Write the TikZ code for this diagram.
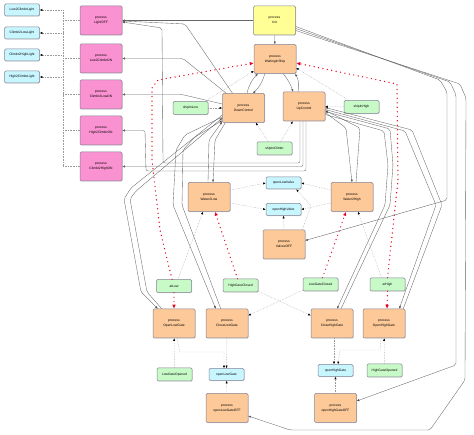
\documentclass[tikz,border=0pt]{standalone}
\usepackage{fontspec}
\setmainfont{Liberation Sans}
\usetikzlibrary{arrows.meta,shadows,calc}
\definecolor{pinkf}{RGB}{250,145,208}
\definecolor{orf}{RGB}{253,201,152}
\definecolor{yelf}{RGB}{255,255,150}
\definecolor{grf}{RGB}{200,250,200}
\definecolor{cyf}{RGB}{200,246,255}
\definecolor{bordc}{RGB}{130,130,150}
\definecolor{redc}{RGB}{230,0,30}
\begin{document}
\begin{tikzpicture}[x=1pt,y=-1pt,
  base/.style={draw=bordc, line width=0.5pt, rounded corners=1.2pt, inner sep=0pt, align=center,
    font=\fontsize{3.3}{5}\selectfont,
    drop shadow={shadow xshift=0.6pt,shadow yshift=-0.6pt,fill=black!30}},
  proc/.style={base, minimum width=42pt, minimum height=29pt},
  pinkp/.style={proc, fill=pinkf},
  orp/.style={proc, fill=orf},
  yelp/.style={proc, fill=yelf},
  ev/.style={base, minimum width=35pt, minimum height=13pt, fill=grf},
  act/.style={base, minimum width=35pt, minimum height=12pt, fill=cyf},
  ctl/.style={draw=black!60, line width=0.35pt, rounded corners=2pt, -{Latex[length=2.6pt,width=2.2pt,fill=black]}},
  dep/.style={draw=black!40, line width=0.4pt, dash pattern=on 0.5pt off 1.1pt, -{Latex[length=2.6pt,width=2.2pt,fill=black,color=black]}},
  depn/.style={draw=black!40, line width=0.4pt, dash pattern=on 0.5pt off 1.1pt},
  redd/.style={draw=redc, line width=1.4pt, line cap=round, dash pattern=on 0pt off 4.5pt, -{Latex[length=4pt,width=3.6pt]}}
]
\useasboundingbox (0,0) rectangle (474,435);

% light actions
\node[act] (l2cl) at (22,10) {Low2ClimbrLight};
\node[act] (c2ll) at (22,33) {Climbr2LowLight};
\node[act] (c2hl) at (22,55) {Climbr2HighLight};
\node[act] (h2cl) at (22,77) {High2ClimbrLight};

% pink processes
\node[pinkp] (loff) at (101,20.5) {process\\LightOFF};
\node[pinkp] (l2con) at (101,58.5) {process\\Low2ClimbrON};
\node[pinkp] (c2lon) at (101,94.5) {process\\Climbr2LowON};
\node[pinkp] (h2con) at (101,130.5) {process\\High2ClimbrON};
\node[pinkp] (c2hon) at (101,166.5) {process\\Climbr2HighON};

% main processes
\node[yelp] (init) at (274.5,20.5) {process\\Init};
\node[orp] (wait) at (275,59) {process\\WaitingInShip};
\node[orp] (down) at (243.5,108) {process\\DownControl};
\node[orp] (up) at (304,106.5) {process\\UpControl};
\node[orp] (wlow) at (209,197) {process\\Water2Low};
\node[orp] (whigh) at (352,197) {process\\Water2High};
\node[orp] (voff) at (284,244.5) {process\\ValvesOFF};
\node[orp] (olg) at (174,323.5) {process\\OpenLowGate};
\node[orp] (clg) at (227,323.5) {process\\CloseLowGate};
\node[orp] (chg) at (332,323.5) {process\\CloseHighGate};
\node[orp] (ohg) at (384,323.5) {process\\OpenHighGate};
\node[orp] (olgoff) at (227,408) {process\\openLowGateOFF};
\node[orp] (ohgoff) at (335.5,408) {process\\openHighGateOFF};

% events
\node[ev] (slow) at (190.5,108) {shipInLow};
\node[ev] (shigh) at (361.5,107) {shipInHigh};
\node[ev] (sclimb) at (274.5,148.5) {shipInClimbr};
\node[ev] (atlow) at (174,286) {atLow};
\node[ev] (hgc) at (240.5,285.5) {HighGateClosed};
\node[ev] (lgc) at (320.5,284.5) {LowGateClosed};
\node[ev] (athigh) at (387.5,284.5) {atHigh};
\node[ev] (lgo) at (174.5,374.5) {LowGateOpened};
\node[ev] (hgo) at (384.5,370.5) {HighGateOpened};

% actions
\node[act] (olv) at (283.5,183) {openLowValve};
\node[act] (ohv) at (283.5,209.5) {openHighValve};
\node[act] (olgt) at (226.5,374.5) {openLowGate};
\node[act] (ohgt) at (335.5,370.5) {openHighGate};

% lights bus
\coordinate (busT) at (63,10);
\coordinate (busB) at (63,166.5);
\draw[depn] (busT) -- (busB);
\draw[depn] (loff.west) -- (63,20.5);
\draw[depn] (l2con.west) -- (63,58.5);
\draw[depn] (c2lon.west) -- (63,94.5);
\draw[depn] (h2con.west) -- (63,130.5);
\draw[depn] (c2hon.west) -- (busB);
\draw[dep] (busT) -- (l2cl.east);
\draw[dep] (63,33) -- (c2ll.east);
\draw[dep] (63,55) -- (c2hl.east);
\draw[dep] (63,77) -- (h2cl.east);

% control edges
\draw[ctl] (init) -- (wait);
\draw[ctl] (init.west) -- (loff.east);
\draw[ctl] ($(down.north)+(-11,0)$) -- (185,24) -- ($(loff.east)+(0,0.5)$);
\draw[ctl] ($(up.south)+(-4,0)$) -- (300,163) -- (163,163) -- (162,28) -- ($(loff.east)+(0,1.5)$);
\draw[ctl] ($(down.north west)+(4,0)$) -- (183,58.5) -- (l2con.east);
\draw[ctl] ($(down.west)+(0,-4)$) -- (182,94.5) -- (c2lon.east);
\draw[ctl] ($(up.south)+(2,0)$) -- (306,171) -- (146,171) -- (145,130.5) -- (h2con.east);
\draw[ctl] ($(up.south)+(-1,0)$) -- (303,166.5) -- (c2hon.east);

\draw[ctl] ($(down.north)+(3.5,0)$) to[bend left=15] ($(wait.south west)+(4,0)$);
\draw[ctl] ($(wait.south west)+(11,0)$) to[bend left=15] ($(down.north)+(9.5,0)$);
\draw[ctl] ($(wait.south east)+(-13,0)$) to[bend left=10] ($(up.north)+(-11,0)$);
\draw[ctl] ($(up.north)+(-6,0)$) to[bend right=20] ($(wait.south east)+(-1,0)$);

\draw[ctl] ($(down.south west)+(3,0)$) -- (215,140) -- ($(wlow.north)+(4,0)$);
\draw[ctl] ($(wlow.north)+(-1,0)$) -- (209,140) -- ($(down.south west)+(0,-1)$);

\draw[ctl] ($(up.east)+(0,6)$) -- (346,128) -- (whigh.north);
\draw[ctl] ($(whigh.north)+(4,0)$) -- (360,128) -- ($(up.east)+(0,4)$);

\draw[ctl] ($(down.west)+(0,7)$) -- (131,188) -- (124,199) -- (141,292) -- ($(olg.north west)+(5,0)$);
\draw[ctl] ($(olg.north west)+(9,0)$) -- (147,292) -- (130,199) -- (136,191) -- ($(down.west)+(0,10)$);

\draw[ctl] ($(down.west)+(0,9)$) -- (185,135) -- (176,150) -- (173,205) -- ($(clg.north west)+(10,0)$);
\draw[ctl] ($(clg.north west)+(15,0)$) -- (182,205) -- (183,150) -- (195,137) -- ($(down.west)+(0,12.5)$);

\draw[ctl] ($(up.east)+(0,8)$) -- (384,131) -- (388,165) -- (385,205) -- ($(chg.north)+(5,0)$);
\draw[ctl] ($(chg.north)+(9,0)$) -- (390,205) -- (393,165) -- (390,129) -- ($(up.east)+(0,5)$);

\draw[ctl] ($(up.east)+(0,3)$) -- (405,131) -- (436,205) -- ($(ohg.north east)+(-6,0)$);
\draw[ctl] ($(ohg.north east)+(-2,0)$) -- (442,205) -- (412,130) -- ($(up.east)+(0,1)$);

\draw[ctl] ($(init.east)+(0,6)$) -- (440,80) -- (447,92) -- (447,200) -- ($(voff.east)+(0,-4)$);
\draw[ctl] ($(init.east)+(0,8)$) -- (450,82) -- (456,95) -- (456,365) -- ($(ohgoff.east)+(0,-7)$);
\draw[ctl] ($(init.east)+(0,10)$) -- (460,84) -- (466,98) -- (465,380) -- (430,430) -- (290,430) -- ($(olgoff.east)+(0,8)$);

% dependency edges
\draw[dep] (slow) -- (down);
\draw[dep] (shigh) -- (up);
\draw[dep] ($(slow.north east)+(-3,0)$) -- ($(wait.west)+(0,12)$);
\draw[dep] ($(shigh.north west)+(5,0)$) -- ($(wait.east)+(0,9)$);
\draw[dep] ($(sclimb.north)+(-6,0)$) -- ($(down.south east)+(-9,0)$);
\draw[dep] ($(sclimb.north)+(6,0)$) -- ($(up.south west)+(10,0)$);
\draw[dep] ($(atlow.north)+(4,0)$) -- ($(wlow.south)+(-6,0)$);
\draw[dep] ($(athigh.north)+(-6,0)$) -- ($(whigh.south)+(6,0)$);
\draw[dep] ($(wlow.east)+(0,-7)$) -- (olv.west);
\draw[dep] ($(wlow.east)+(0,6)$) -- (ohv.west);
\draw[dep] ($(whigh.west)+(0,-7)$) -- (olv.east);
\draw[dep] ($(whigh.west)+(0,6)$) -- (ohv.east);
\draw[dep] (voff.north) -- (ohv.south);
\draw[dep] ($(voff.north east)+(-3,0)$) -- (311,206) -- ($(olv.south east)+(-5,0)$);
\draw[dep] ($(hgc.south east)+(0,-1)$) -- ($(chg.west)+(0,-8)$);
\draw[dep] ($(lgc.south west)+(0,-1)$) -- ($(clg.east)+(0,-8)$);
\draw[dep] ($(olg.south)+(3,0)$) -- (180,352) -- (224,352) -- ($(olgt.north)+(-2.5,0)$);
\draw[dep] (clg) -- (olgt);
\draw[dep] (lgo) -- (olg);
\draw[dep] (olgoff) -- (olgt);
\draw[dep] ($(chg.south)+(2,0)$) -- ($(ohgt.north)+(-1.5,0)$);
\draw[dep] ($(ohg.south)+(-3,0)$) -- (380,350) -- (340,350) -- ($(ohgt.north)+(2.5,0)$);
\draw[dep] (hgo) -- (ohg);
\draw[dep] (ohgoff) -- (ohgt);

% red edges
\draw[redd] ($(atlow.north)+(-2,0)$) -- (160,230) -- (152,160) -- (152,88) -- (158,80) -- ($(wait.west)+(0,4)$);
\draw[redd] (athigh.north) -- (398,180) -- (397,84) -- ($(wait.east)+(0,4)$);
\draw[redd] (atlow) -- (olg);
\draw[redd] (athigh.south) -- ($(ohg.north)+(3,0)$);
\draw[redd] ($(hgc.north)+(-3,0)$) -- ($(wlow.south)+(6,0)$);
\draw[redd] ($(lgc.north)+(2,0)$) -- ($(whigh.south)+(-6,0)$);
\end{tikzpicture}
\end{document}
